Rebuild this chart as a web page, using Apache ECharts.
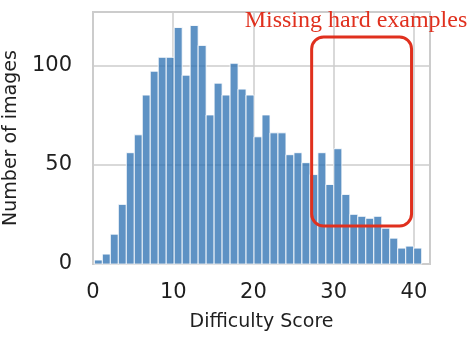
<!DOCTYPE html>
<html>
<head>
<meta charset="utf-8">
<script src="https://cdn.jsdelivr.net/npm/echarts@6/dist/echarts.min.js"></script>
<style>html,body{margin:0;padding:0;background:#fff;}#c{width:474px;height:337px;}</style>
</head>
<body>
<div id="c"></div>
<script>
// Histogram data (41 bins)
const binStart = 0.17;
const binWidth = 0.995;
const counts = [2, 5, 15, 30, 56, 65, 85, 97, 104, 104,
                119, 95, 120, 110, 75, 91, 85, 101, 88, 85,
                64, 75, 66, 66, 55, 56, 51, 45, 56, 40,
                58, 35, 25, 24, 23, 24, 18, 13, 8, 9, 8];
const xTicks = [0, 10, 20, 30, 40];
const yTicks = [0, 50, 100];
const xTitle = 'Difficulty Score';
const yTitle = 'Number of images';
const annotationText = 'Missing hard examples';
// annotation box in data units: [x0, x1, y0, y1]
const boxRange = [27.25, 39.7, 19.1, 114.2];
const textAnchor = [18.9, 122.3];

const bins = counts.map((c, i) => [binStart + i * binWidth, binStart + (i + 1) * binWidth, c]);

const chart = echarts.init(document.getElementById('c'), null, {renderer: 'canvas'});
const txt = '#1f1f1f';
const font = 'DejaVu Sans';
chart.setOption({
  animation: false,
  backgroundColor: '#fff',
  grid: {left: 93, right: 44, top: 12, bottom: 73, outerBoundsMode: 'none', containLabel: false,
         show: true, borderColor: '#cccccc', borderWidth: 2, backgroundColor: 'transparent'},
  xAxis: {
    type: 'value', min: 0, max: 42, interval: 10,
    name: xTitle, nameLocation: 'middle', nameGap: 49,
    nameTextStyle: {fontFamily: font, fontSize: 19, color: txt},
    axisLine: {show: false}, axisTick: {show: false},
    axisLabel: {fontFamily: font, fontSize: 21, color: txt, margin: 18, showMaxLabel: false,
      formatter: v => xTicks.includes(v) ? String(v) : ''},
    splitLine: {show: true, lineStyle: {color: '#cccccc', width: 1.5}}
  },
  yAxis: {
    type: 'value', min: 0, max: 126.8, interval: 50,
    name: yTitle, nameLocation: 'middle', nameGap: 71, nameRotate: 90,
    nameTextStyle: {fontFamily: font, fontSize: 19, color: txt},
    axisLine: {show: false}, axisTick: {show: false},
    axisLabel: {fontFamily: font, fontSize: 21, color: txt, margin: 21, showMaxLabel: false,
      formatter: v => yTicks.includes(v) ? String(v) : ''},
    splitLine: {show: true, lineStyle: {color: '#cccccc', width: 1.5}}
  },
  series: [{
    type: 'custom',
    data: bins,
    encode: {x: [0, 1], y: 2},
    renderItem: function (params, api) {
      const p0 = api.coord([api.value(0), api.value(2)]);
      const p1 = api.coord([api.value(1), 0]);
      return {
        type: 'rect',
        shape: {x: p0[0], y: p0[1], width: p1[0] - p0[0], height: p1[1] - p0[1]},
        style: {fill: 'rgba(40,110,176,0.75)', stroke: 'rgba(255,255,255,0.85)', lineWidth: 1}
      };
    }
  }]
});

const b0 = chart.convertToPixel({gridIndex: 0}, [boxRange[0], boxRange[3]]);
const b1 = chart.convertToPixel({gridIndex: 0}, [boxRange[1], boxRange[2]]);
const t0 = chart.convertToPixel({gridIndex: 0}, textAnchor);
chart.setOption({
  graphic: [
    {type: 'rect', z: 100,
     shape: {x: b0[0], y: b0[1], width: b1[0] - b0[0], height: b1[1] - b0[1], r: 12},
     style: {fill: 'none', stroke: '#e0301e', lineWidth: 3}},
    {type: 'text', z: 100, x: t0[0], y: t0[1],
     style: {text: annotationText, fill: '#e0301e', font: '24px "Liberation Serif"', textAlign: 'left', textVerticalAlign: 'middle'}}
  ]
});
</script>
</body>
</html>
